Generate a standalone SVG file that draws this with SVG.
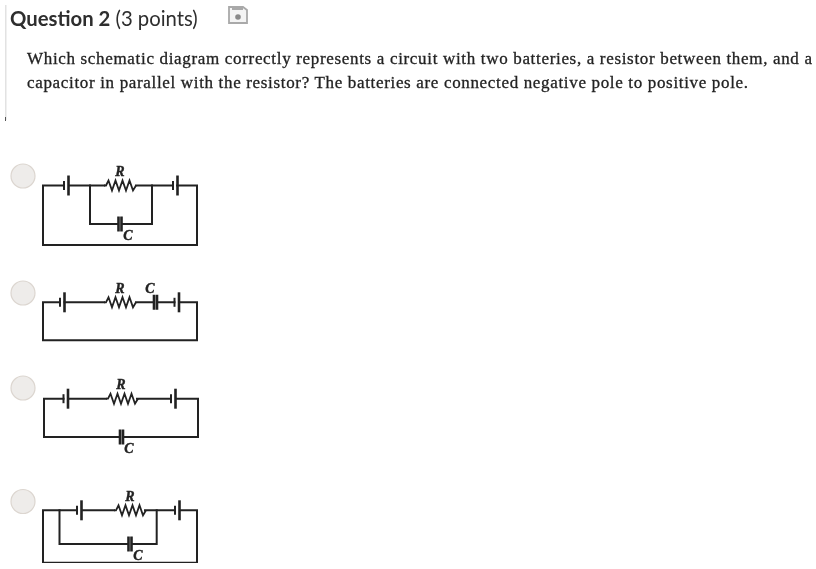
<svg xmlns="http://www.w3.org/2000/svg" width="816" height="569" viewBox="0 0 816 569">
<style>
.w{fill:none;stroke:#222;stroke-width:2;stroke-linejoin:miter;stroke-linecap:square}
.z{fill:none;stroke:#222;stroke-width:1.8;stroke-linejoin:miter}
.p{fill:none;stroke:#222;stroke-width:2}
.l{fill:none;stroke:#222;stroke-width:2.6}
.c{fill:none;stroke:#222;stroke-width:2.6}
.o{fill:#eeecea;stroke:#dcd6d0;stroke-width:1.2}
.rl{font:italic bold 14px "Liberation Serif",serif;fill:#222;stroke:#222;stroke-width:0.4;text-anchor:middle}
.q{font-family:Lato,sans-serif;font-size:20.3px;fill:#2d2d2d}
.b{font-family:"Liberation Serif",serif;font-size:17px;fill:#222;stroke:#222;stroke-width:0.3}
</style>
<defs>
<filter id="soft" x="0" y="0" width="1" height="1"><feGaussianBlur stdDeviation="0.35"/></filter>
<path id="res" class="z" d="M0 0L2 0L4.500-5L8 5L11.500-5L15 5L18.500-5L22 5L25.500-5L29 5L32 0"/>
<g id="bat"><path class="p" d="M0-4.500V4.500"/><path class="l" d="M4.500-10V10"/></g>
<g id="cap"><path class="c" d="M0.500-7.500V7.500M3.500-7.500V7.500"/></g>
</defs>
<rect id="page" width="816" height="569" fill="#fff"/>
<g filter="url(#soft)">
<g id="header">
<rect x="5" y="5" width="1.500" height="115" fill="#e2e2e2"/>
<rect x="5" y="117" width="1" height="4" fill="#555"/>
<text class="q" x="10" y="26"><tspan font-weight="700">Question 2</tspan> (3 points)</text>
<path d="M229 7H243L247 10V23H229Z" fill="#f4f4f4" stroke="#a9a9a9" stroke-width="1.800"/>
<rect x="232" y="6" width="11" height="4" fill="#a9a9a9"/>
<circle cx="238" cy="17" r="2.800" fill="#8a8a8a"/>
<text class="b" x="27" y="64" textLength="785">Which schematic diagram correctly represents a circuit with two batteries, a resistor between them, and a</text>
<text class="b" x="27" y="88" textLength="721">capacitor in parallel with the resistor? The batteries are connected negative pole to positive pole.</text>
</g>
<g id="connectors">
<path class="w" d="M64 185.500H43V245H197V185.500H177M173 185.500H136M104 185.500H69"/>
<path class="w" d="M90 185.500V224H118M122 224H152V185.500"/>
<path class="w" d="M60 302.300H43V340.300H197V302.300H179M174.500 302.300H157.500M153.500 302.300H136M104 302.300H64.500"/>
<path class="w" d="M63.500 398.700H44V437H119.500M123.500 437H198V398.700H176M171 398.700H137M106 398.700H68"/>
<path class="w" d="M77 510.300H43V562.700H197V510.300H180M175 510.300H145M114 510.300H82"/>
<path class="w" d="M59.500 510.300V544H128M132 544H156.700V510.300"/>
</g>
<g id="option-a">
<circle class="o" cx="23" cy="176" r="12"/>
<use href="#bat" x="64" y="185.500"/><use href="#bat" x="173" y="185.500"/>
<use href="#res" x="104" y="185.500"/><use href="#cap" x="118" y="224"/>
<text class="rl" x="120" y="176">R</text><text class="rl" x="128" y="240">C</text>
</g>
<g id="option-b">
<circle class="o" cx="23" cy="293" r="12"/>
<use href="#bat" x="60" y="302.300"/><use href="#bat" x="174.500" y="302.300"/>
<use href="#res" x="104" y="302.300"/><use href="#cap" x="153.500" y="302.300"/>
<text class="rl" x="120" y="293">R</text><text class="rl" x="150" y="293">C</text>
</g>
<g id="option-c">
<circle class="o" cx="23" cy="388" r="12"/>
<use href="#bat" x="63.500" y="398.700"/><use href="#bat" x="171" y="398.700"/>
<use href="#res" x="106" y="398.700"/><use href="#cap" x="119.500" y="437"/>
<text class="rl" x="121" y="389">R</text><text class="rl" x="129" y="453">C</text>
</g>
<g id="option-d">
<circle class="o" cx="23" cy="501.500" r="12"/>
<use href="#bat" x="77" y="510.300"/><use href="#bat" x="175" y="510.300"/>
<use href="#res" x="114" y="510.300"/><use href="#cap" x="128" y="544"/>
<text class="rl" x="130" y="501">R</text><text class="rl" x="138" y="560">C</text>
</g>
</g>
</svg>
